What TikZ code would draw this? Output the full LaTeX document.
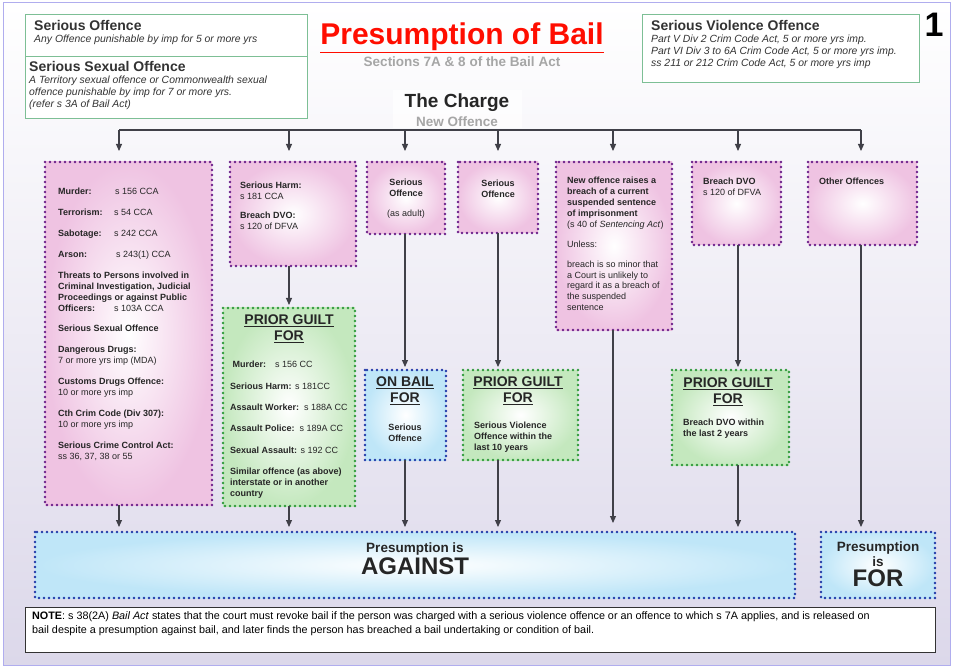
\documentclass[tikz,border=0pt]{standalone}
\usepackage{fontspec}
\setmainfont{Liberation Sans}
\usetikzlibrary{arrows.meta}
\definecolor{pur}{HTML}{6B1F8A}
\definecolor{grn}{HTML}{2E9A3A}
\definecolor{blu}{HTML}{2038A8}
\definecolor{pinkf}{HTML}{EFC3E2}
\definecolor{greenf}{HTML}{C4E8BE}
\definecolor{bluef}{HTML}{BFE6F8}
\definecolor{lav}{HTML}{DCD8EA}
\definecolor{boxg}{HTML}{7DBF95}
\definecolor{ln}{HTML}{404048}
\begin{document}
\begin{tikzpicture}[x=1pt,y=-1pt,
  dots/.style={line width=2.9pt,dash pattern=on 0pt off 5pt,line cap=round},
  pbox/.style={dots,draw=pur,inner color=white,outer color=pinkf},
  gbox/.style={dots,draw=grn,inner color=white,outer color=greenf},
  bbox/.style={dots,draw=blu,inner color=white,outer color=bluef},
  tx/.style={font=\fontsize{9}{10.9}\selectfont,text=black!85,align=left,anchor=north west,inner sep=0pt},
  arr/.style={draw=ln,line width=1.1pt,-{Triangle[length=7pt,width=6pt]}},
  hd/.style={font=\fontsize{14}{16}\selectfont\bfseries,text=black!85,align=center},
  info/.style={draw=boxg,line width=1pt},
  itx/.style={anchor=north west,inner sep=0pt,align=left,font=\fontsize{10.4}{12}\selectfont\itshape,text=black!80}]
\useasboundingbox (0,0) rectangle (953,668);
\shade[top color=white,bottom color=lav] (3,3) rectangle (950,665);
\draw[draw=lav!80!blue,line width=1pt] (3,3) rectangle (950,665);
% info boxes
\draw[info,fill=white] (25,15) rectangle (307,57);
\draw[info,fill=white] (25,57) rectangle (307,119);
\node[itx] (so) at (34,20) {{\fontsize{14}{15}\selectfont\bfseries\upshape Serious Offence}\\Any Offence punishable by imp for 5 or more yrs};
\node[itx] (sso) at (29,61) {{\fontsize{14}{15}\selectfont\bfseries\upshape Serious Sexual Offence}\\A Territory sexual offence or Commonwealth sexual\\offence punishable by imp for 7 or more yrs.\\(refer s 3A of Bail Act)};
\draw[info,fill=white] (642,15) rectangle (919,83);
\node[itx] (svo) at (651,20) {{\fontsize{14}{15}\selectfont\bfseries\upshape Serious Violence Offence}\\Part V Div 2 Crim Code Act, 5 or more yrs imp.\\Part VI Div 3 to 6A Crim Code Act, 5 or more yrs imp.\\ss 211 or 212 Crim Code Act, 5 or more yrs imp};
\node[font=\fontsize{34}{34}\selectfont\bfseries] (one) at (934,25) {1};
% title
\node[font=\fontsize{30}{32}\selectfont\bfseries,text=red!90!orange] (title) at (462,38) {\underline{Presumption of Bail}};
\node[font=\fontsize{13.5}{15}\selectfont\bfseries,text=black!35] (sub) at (462,62) {Sections 7A \& 8 of the Bail Act};
\fill[white,opacity=0.7] (393,90) rectangle (522,128);
\node[font=\fontsize{19}{21}\selectfont\bfseries,text=black!85] (charge) at (457,103) {The Charge};
\node[font=\fontsize{13.5}{15}\selectfont\bfseries,text=black!35] (newo) at (457,122) {New Offence};
% top distribution
\draw[ln,line width=1.1pt] (119,130) -- (861,130);
\foreach \x in {119,289,405,498,613,738,861} \draw[arr] (\x,130) -- (\x,151);
% pink boxes
\draw[pbox] (45,162) rectangle (212,505);
\draw[pbox] (230,162) rectangle (356,266);
\draw[pbox] (367,162) rectangle (445,234);
\draw[pbox] (458,162) rectangle (538,233);
\draw[pbox] (556,162) rectangle (672,330);
\draw[pbox] (692,162) rectangle (781,245);
\draw[pbox] (808,162) rectangle (917,245);
\newcommand\lab[2]{\makebox[#1][l]{\bfseries #2}}
\node[tx] (a) at (58,188) {\lab{57pt}{Murder:}s 156 CCA\\[10pt]
\lab{56pt}{Terrorism:}s 54 CCA\\[10pt]
\lab{56pt}{Sabotage:}s 242 CCA\\[10pt]
\lab{58pt}{Arson:}s 243(1) CCA\\[10pt]
\textbf{Threats to Persons involved in}\\\textbf{Criminal Investigation, Judicial}\\\textbf{Proceedings or against Public}\\\lab{56pt}{Officers:}s 103A CCA\\[10pt]
\textbf{Serious Sexual Offence}\\[10pt]
\textbf{Dangerous Drugs:}\\ 7 or more yrs imp (MDA)\\[10pt]
\textbf{Customs Drugs Offence:}\\10 or more yrs imp\\[10pt]
\textbf{Cth Crim Code (Div 307):}\\10 or more yrs imp\\[10pt]
\textbf{Serious Crime Control Act:}\\ss 36, 37, 38 or 55};
\node[tx] (b) at (240,182) {\textbf{Serious Harm:}\\ s 181 CCA\\[8pt]\textbf{Breach DVO:}\\s 120 of DFVA};
\node[tx,anchor=north,align=center] (c) at (406,179) {\textbf{Serious}\\\textbf{Offence}\\[9pt](as adult)};
\node[tx,anchor=north,align=center] (d) at (498,180) {\textbf{Serious}\\\textbf{Offence}};
\node[tx] (e) at (567,177) {\textbf{New offence raises a}\\\textbf{breach of a current}\\\textbf{suspended sentence}\\\textbf{of imprisonment}\\(s 40 of \textit{Sentencing Act})\\[9pt]Unless:\\[9pt]breach is so minor that\\a Court is unlikely to\\regard it as a breach of\\the suspended\\sentence};
\node[tx] (f) at (703,178) {\textbf{Breach DVO}\\s 120 of DFVA};
\node[tx] (g) at (819,178) {\textbf{Other Offences}};
% green / blue boxes
\draw[gbox] (223,308) rectangle (355,506);
\draw[bbox] (365,370) rectangle (446,460);
\draw[gbox] (463,370) rectangle (578,460);
\draw[gbox] (672,370) rectangle (789,465);
\node[hd] (pg1h) at (289,329) {\underline{PRIOR GUILT}\\\underline{FOR}};
\node[tx] (pg1) at (230,361) {\lab{45pt}{\ Murder:}s 156 CC\\[10.5pt]
\textbf{Serious Harm:} s 181CC\\[10.5pt]
\textbf{Assault Worker:}\ \ s 188A CC\\[10.5pt]
\textbf{Assault Police:}\ \ s 189A CC\\[10.5pt]
\textbf{Sexual Assault:} s 192 CC\\[10.5pt]
\textbf{Similar offence (as above)}\\\textbf{interstate or in another}\\\textbf{country}};
\node[hd] (obh) at (405,391) {\underline{ON BAIL}\\\underline{FOR}};
\node[tx,anchor=north,align=center] (ob) at (405,424) {\textbf{Serious}\\\textbf{Offence}};
\node[hd] (pg2h) at (518,391) {\underline{PRIOR GUILT}\\\underline{FOR}};
\node[tx] (pg2) at (474,422) {\textbf{Serious Violence}\\\textbf{Offence within the}\\\textbf{last 10 years}};
\node[hd] (pg3h) at (728,392) {\underline{PRIOR GUILT}\\\underline{FOR}};
\node[tx] (pg3) at (683,419) {\textbf{Breach DVO within}\\\textbf{the last 2 years}};
% result boxes
\draw[bbox] (35,532) rectangle (795,598);
\node[font=\fontsize{13.5}{15}\selectfont\bfseries,text=black!85,align=center] (against) at (415,559) {Presumption is\\[1pt]{\fontsize{24}{24}\selectfont AGAINST}};
\draw[bbox] (821,532) rectangle (935,598);
\node[font=\fontsize{13.5}{15}\selectfont\bfseries,text=black!85,align=center] (for) at (878,564) {Presumption\\is\\[2pt]{\fontsize{24}{24}\selectfont FOR}};
% connectors
\draw[arr] (289,266) -- (289,305);
\draw[arr] (405,234) -- (405,367);
\draw[arr] (498,233) -- (498,367);
\draw[arr] (738,245) -- (738,367);
\foreach \x/\y in {119/505,289/506,405/460,498/460,738/465} \draw[arr] (\x,\y) -- (\x,527);
\draw[arr] (613,330) -- (613,523);
\draw[arr] (861,245) -- (861,527);
% note
\draw[black!80,line width=0.6pt,fill=white] (25,607) rectangle (935,652);
\node[anchor=north west,inner sep=0pt,align=left,font=\fontsize{10.8}{14}\selectfont] (note) at (32,611) {\textbf{NOTE}: s 38(2A) \textit{Bail Act} states that the court must revoke bail if the person was charged with a serious violence offence or an offence to which s 7A applies, and is released on\\bail despite a presumption against bail, and later finds the person has breached a bail undertaking or condition of bail.};
\end{tikzpicture}
\end{document}
